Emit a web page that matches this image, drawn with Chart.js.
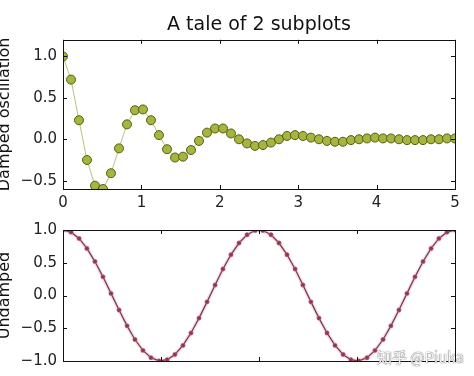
<!DOCTYPE html>
<html>
<head>
<meta charset="utf-8">
<script src="https://cdn.jsdelivr.net/npm/chart.js@4/dist/chart.umd.min.js"></script>
<style>
  body { margin: 0; background: #fff; }
  #wrap { position: relative; width: 474px; height: 376px; overflow: hidden; background: #fff; }
  #c1 { position: absolute; left: -5px; top: 0; }
  #c2 { position: absolute; left: -5px; top: 215px; }
  #marca { position: absolute; left: 377px; top: 346px; font: 15px "Noto Sans CJK SC", "DejaVu Sans", sans-serif;
           color: #f4f4f4; text-shadow: 0 0 1px #666, 0 0 1px #666; }
</style>
</head>
<body>
<div id="wrap">
  <canvas id="c1" width="479" height="215"></canvas>
  <canvas id="c2" width="479" height="161"></canvas>
  <div id="marca">知乎 @Piuka</div>
</div>
<script>
// datos
const titulo = "A tale of 2 subplots";
const etiquetaArriba = "Damped oscillation";
const etiquetaAbajo = "Undamped";

const xArriba = [0, 0.102, 0.204, 0.306, 0.408, 0.510, 0.612, 0.714, 0.816, 0.918,
    1.020, 1.122, 1.224, 1.327, 1.429, 1.531, 1.633, 1.735, 1.837, 1.939,
    2.041, 2.143, 2.245, 2.347, 2.449, 2.551, 2.653, 2.755, 2.857, 2.959,
    3.061, 3.163, 3.265, 3.367, 3.469, 3.571, 3.673, 3.776, 3.878, 3.980,
    4.082, 4.184, 4.286, 4.388, 4.490, 4.592, 4.694, 4.796, 4.898, 5.0];
const yArriba = [1.00, 0.72, 0.23, -0.25, -0.56, -0.60, -0.41, -0.11, 0.18, 0.35,
    0.36, 0.23, 0.05, -0.12, -0.22, -0.21, -0.13, -0.02, 0.08, 0.13,
    0.13, 0.07, 0.00, -0.05, -0.08, -0.07, -0.04, 0.00, 0.04, 0.05,
    0.04, 0.02, 0.00, -0.02, -0.03, -0.03, -0.01, 0.00, 0.01, 0.02,
    0.01, 0.01, 0.00, -0.01, -0.01, -0.01, 0.00, 0.00, 0.01, 0.01];

const xAbajo = [0, 0.041, 0.082, 0.122, 0.163, 0.204, 0.245, 0.286, 0.327, 0.367,
    0.408, 0.449, 0.490, 0.531, 0.571, 0.612, 0.653, 0.694, 0.735, 0.776,
    0.816, 0.857, 0.898, 0.939, 0.980, 1.020, 1.061, 1.102, 1.143, 1.184,
    1.224, 1.265, 1.306, 1.347, 1.388, 1.429, 1.469, 1.510, 1.551, 1.592,
    1.633, 1.673, 1.714, 1.755, 1.796, 1.837, 1.878, 1.918, 1.959, 2.0];
const yAbajo = [1.000, 0.967, 0.871, 0.718, 0.518, 0.285, 0.032, -0.222, -0.463, -0.672,
    -0.838, -0.950, -0.998, -0.981, -0.901, -0.762, -0.572, -0.345, -0.097, 0.160,
    0.404, 0.623, 0.801, 0.927, 0.992, 0.992, 0.927, 0.801, 0.623, 0.404,
    0.160, -0.097, -0.345, -0.572, -0.762, -0.901, -0.981, -0.998, -0.950, -0.838,
    -0.672, -0.463, -0.222, 0.032, 0.285, 0.518, 0.718, 0.871, 0.967, 1.000];

const ticksXArriba = [0, 1, 2, 3, 4, 5];
const ticksYArriba = [-0.5, 0.0, 0.5, 1.0];
const ticksXAbajo = [0.5, 1.0, 1.5];
const ticksYAbajo = [-1.0, -0.5, 0.0, 0.5, 1.0];

const fuente = "'DejaVu Sans', sans-serif";
const menos = v => v.toFixed(1).replace("-", "\u2212");

function puntos(xs, ys) {
    return xs.map((x, i) => ({ x: x, y: ys[i] }));
}

// marco negro y ticks hacia adentro, como matplotlib clasico
const marco = {
    id: "marco",
    afterDraw(chart) {
        const a = chart.chartArea, ctx = chart.ctx;
        const sx = chart.scales.x, sy = chart.scales.y;
        ctx.save();
        ctx.strokeStyle = "#111";
        ctx.lineWidth = 1;
        ctx.strokeRect(Math.round(a.left) + 0.5, Math.round(a.top) + 0.5,
            Math.round(a.right - a.left), Math.round(a.bottom - a.top));
        ctx.beginPath();
        sx.ticks.forEach(t => {
            const px = Math.round(sx.getPixelForValue(t.value)) + 0.5;
            ctx.moveTo(px, a.top); ctx.lineTo(px, a.top + 4);
            ctx.moveTo(px, a.bottom); ctx.lineTo(px, a.bottom - 4);
        });
        sy.ticks.forEach(t => {
            const py = Math.round(sy.getPixelForValue(t.value)) + 0.5;
            ctx.moveTo(a.left, py); ctx.lineTo(a.left + 4, py);
            ctx.moveTo(a.right, py); ctx.lineTo(a.right - 4, py);
        });
        ctx.stroke();
        ctx.restore();
    }
};

function ejes(xmin, xmax, ymin, ymax, tx, ty, etiqueta, mostrarX, altoX) {
    return {
        x: {
            type: "linear", min: xmin, max: xmax,
            grid: { display: false, drawTicks: false },
            border: { display: false },
            afterBuildTicks: s => { s.ticks = tx.map(v => ({ value: v })); },
            afterFit: s => { s.height = altoX; },
            ticks: {
                display: mostrarX, padding: 5, color: "#222", maxRotation: 0,
                font: { family: fuente, size: 15 },
                callback: v => String(v)
            }
        },
        y: {
            type: "linear", min: ymin, max: ymax,
            grid: { display: false, drawTicks: false },
            border: { display: false },
            afterBuildTicks: s => { s.ticks = ty.map(v => ({ value: v })); },
            afterFit: s => { s.width = 68; },
            title: {
                display: true, text: etiqueta, color: "#111", padding: 0,
                font: { family: fuente, size: 16 }
            },
            ticks: {
                padding: 6, color: "#222",
                font: { family: fuente, size: 15 },
                callback: v => menos(v)
            }
        }
    };
}

new Chart(document.getElementById("c1"), {
    type: "line",
    data: {
        datasets: [{
            data: puntos(xArriba, yArriba),
            borderColor: "#b9c07c",
            borderWidth: 1,
            pointRadius: 4.5,
            pointBackgroundColor: "#a7b43f",
            pointBorderColor: "#52600f",
            pointBorderWidth: 1,
            tension: 0,
            clip: 0
        }]
    },
    options: {
        responsive: false, animation: false,
        layout: { padding: { left: 0, right: 19, top: 0, bottom: 0 } },
        plugins: {
            legend: { display: false }, tooltip: { enabled: false },
            title: {
                display: true, text: titulo, color: "#111", fullSize: false,
                font: { family: fuente, size: 19, weight: "normal" },
                padding: { top: 14, bottom: 3 }
            }
        },
        scales: ejes(0, 5, -0.6, 1.2, ticksXArriba, ticksYArriba, etiquetaArriba, true, 26)
    },
    plugins: [marco]
});

new Chart(document.getElementById("c2"), {
    type: "line",
    data: {
        datasets: [{
            // halo rosado alrededor de la curva
            data: puntos(xAbajo, yAbajo),
            borderColor: "rgba(235,120,155,0.25)",
            borderWidth: 4,
            pointRadius: 0,
            tension: 0,
            clip: 0
        }, {
            data: puntos(xAbajo, yAbajo),
            borderColor: "#3f3234",
            borderWidth: 1.3,
            pointRadius: 2.2,
            pointBackgroundColor: "#6e2434",
            pointBorderColor: "rgba(220,110,140,0.5)",
            pointBorderWidth: 1,
            tension: 0,
            clip: 0
        }]
    },
    options: {
        responsive: false, animation: false,
        layout: { padding: { left: 0, right: 19, top: 5, bottom: 0 } },
        plugins: { legend: { display: false }, tooltip: { enabled: false } },
        scales: ejes(0, 2, -1, 1, ticksXAbajo, ticksYAbajo, etiquetaAbajo, false, 7)
    },
    plugins: [marco]
});
</script>
</body>
</html>
